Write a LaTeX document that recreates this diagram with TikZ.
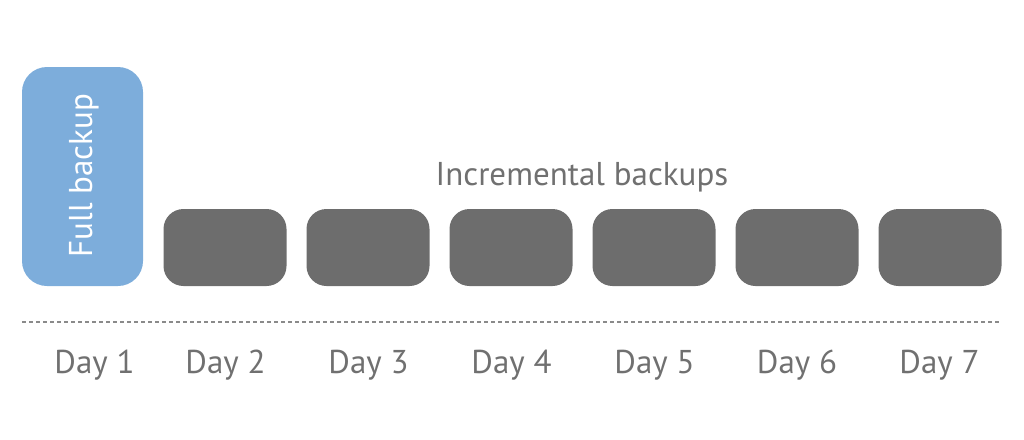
\documentclass[tikz,border=0pt]{standalone}
\usepackage{fontspec}
\setmainfont{PT Sans}
\definecolor{fullblue}{HTML}{7DADDB}
\definecolor{incgray}{HTML}{6D6D6D}
\definecolor{txtgray}{HTML}{707070}
\definecolor{dashgray}{HTML}{8A8A8A}
\begin{document}
\begin{tikzpicture}[x=1pt,y=-1pt,
  fullbox/.style={fill=fullblue,rounded corners=25pt,minimum width=121pt,minimum height=219pt,inner sep=0pt},
  incbox/.style={fill=incgray,rounded corners=20pt,minimum width=123pt,minimum height=77pt,inner sep=0pt},
  daylabel/.style={text=txtgray,font=\fontsize{33}{40}\selectfont,anchor=base,inner sep=0pt},
  baseline rule/.style={draw=dashgray,line width=1.3pt,dash pattern=on 4pt off 3pt}]
\useasboundingbox (0,0) rectangle (1024,439);
\node[fullbox] (full) at (82.5,176.5) {};
\node[rotate=90,anchor=base,inner sep=0pt,text=white,font=\fontsize{33}{40}\selectfont] (fulltxt) at (92,175.5) {Full backup};
\foreach \i/\x in {2/225,3/368,4/511,5/654,6/797,7/940}{
  \node[incbox] (b\i) at (\x,247.5) {};
}
\node[daylabel] (inc) at (582,185) {Incremental backups};
\coordinate (ls) at (22,322);
\coordinate (le) at (1001,322);
\draw[baseline rule] (ls) -- (le);
\node[daylabel] (d1) at (94.5,373) {Day 1};
\foreach \i/\x in {2/225.5,3/368.5,4/511.5,5/654.5,6/797,7/939.5}{
  \node[daylabel] (d\i) at (\x,373) {Day \i};
}
\end{tikzpicture}
\end{document}
